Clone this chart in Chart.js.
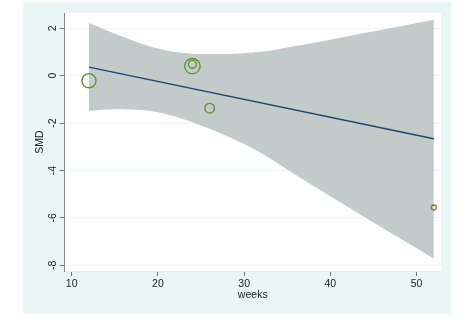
<!DOCTYPE html>
<html>
<head>
<meta charset="utf-8">
<script src="https://cdn.jsdelivr.net/npm/chart.js@4.4.1/dist/chart.umd.min.js"></script>
<style>
  html, body { margin: 0; padding: 0; background: #ffffff; }
  canvas { display: block; }
</style>
</head>
<body>
<canvas id="chart" width="474" height="332"></canvas>
<script>
// Study estimates: duration (weeks), standardized mean difference, relative weight
const weeks = [12, 24, 24, 26, 52];
const smd = [-0.21, 0.40, 0.48, -1.37, -5.56];
const studyWeights = [0.32, 0.38, 0.10, 0.15, 0.04];

// Fitted meta-regression line
const fitWeeks = [12, 52];
const fitSmd = [0.36, -2.66];

// Confidence band around the fit
const bandWeeks = [12, 14, 16, 18, 20, 22, 24, 26, 28, 30, 32, 34, 36, 40, 44, 48, 52];
const bandUpper = [2.22, 1.92, 1.63, 1.36, 1.15, 1.00, 0.93, 0.91, 0.91, 0.95, 1.01, 1.12, 1.25, 1.52, 1.80, 2.08, 2.36];
const bandLower = [-1.49, -1.43, -1.42, -1.45, -1.54, -1.72, -1.96, -2.24, -2.54, -2.88, -3.27, -3.73, -4.19, -5.09, -5.97, -6.85, -7.72];

// Axis ticks
const xTicks = [10, 20, 30, 40, 50];
const yTicks = [-8, -6, -4, -2, 0, 2];

const toXY = (xs, ys) => xs.map((x, i) => ({ x: x, y: ys[i] }));

const FONT = "'Liberation Sans', Arial, sans-serif";
const PANEL = '#eaf5f6';

// Graph region (tinted panel) behind a white plot region
const backdrop = {
  id: 'backdrop',
  beforeDraw(chart) {
    const { ctx, chartArea: a } = chart;
    ctx.save();
    ctx.fillStyle = '#ffffff';
    ctx.fillRect(0, 0, chart.width, chart.height);
    ctx.fillStyle = PANEL;
    ctx.fillRect(23, 2, 428, 312);
    ctx.fillStyle = '#ffffff';
    ctx.fillRect(a.left, a.top, a.right - a.left, a.bottom - a.top);
    ctx.restore();
  }
};

new Chart(document.getElementById('chart'), {
  type: 'scatter',
  data: {
    datasets: [
      {
        label: 'studies',
        data: toXY(weeks, smd),
        showLine: false,
        pointStyle: 'circle',
        pointRadius: studyWeights.map(w => Math.sqrt(w) * 12.5),
        pointHoverRadius: studyWeights.map(w => Math.sqrt(w) * 12.5),
        pointBackgroundColor: 'rgba(0,0,0,0)',
        pointBorderColor: '#5b8f2c',
        pointBorderWidth: 1.3,
        order: 0
      },
      {
        label: 'fit',
        data: toXY(fitWeeks, fitSmd),
        showLine: true,
        borderColor: '#1a476f',
        borderWidth: 1.4,
        pointRadius: 0,
        fill: false,
        order: 1
      },
      {
        label: 'upper',
        data: toXY(bandWeeks, bandUpper),
        showLine: true,
        borderWidth: 0,
        borderColor: 'rgba(0,0,0,0)',
        backgroundColor: '#c3cbca',
        pointRadius: 0,
        cubicInterpolationMode: 'monotone',
        fill: '+1',
        order: 2
      },
      {
        label: 'lower',
        data: toXY(bandWeeks, bandLower),
        showLine: true,
        borderWidth: 0,
        borderColor: 'rgba(0,0,0,0)',
        backgroundColor: '#c3cbca',
        pointRadius: 0,
        cubicInterpolationMode: 'monotone',
        fill: false,
        order: 3
      }
    ]
  },
  options: {
    responsive: false,
    animation: false,
    events: [],
    layout: { padding: { left: 23, right: 33, top: 13, bottom: 21 } },
    plugins: {
      legend: { display: false },
      tooltip: { enabled: false }
    },
    scales: {
      x: {
        type: 'linear',
        min: 9.165,
        max: 52.83,
        afterBuildTicks: s => { s.ticks = xTicks.map(v => ({ value: v })); },
        afterFit: s => { s.height = 40; },
        grid: {
          drawOnChartArea: false,
          tickLength: 5,
          tickColor: '#777777',
          tickWidth: 1
        },
        border: { color: '#e6eeee', width: 1 },
        ticks: {
          padding: 2,
          maxRotation: 0,
          color: '#222222',
          font: { family: FONT, size: 10.5 }
        },
        title: {
          display: true,
          text: 'weeks',
          color: '#222222',
          font: { family: FONT, size: 10.5 },
          padding: { top: 0, bottom: 9.5 }
        }
      },
      y: {
        type: 'linear',
        min: -8.24,
        max: 2.645,
        afterBuildTicks: s => { s.ticks = yTicks.map(v => ({ value: v })); },
        afterFit: s => { s.width = 41.5; },
        grid: {
          drawOnChartArea: true,
          color: '#eef3f3',
          tickLength: 5,
          tickColor: '#777777',
          tickWidth: 1
        },
        border: { color: '#8a8a8a', width: 1 },
        ticks: {
          minRotation: 90,
          maxRotation: 90,
          crossAlign: 'center',
          padding: 2,
          color: '#222222',
          font: { family: FONT, size: 10.5 }
        },
        title: {
          display: true,
          text: 'SMD',
          color: '#222222',
          font: { family: FONT, size: 10.5 },
          padding: { top: 10.5, bottom: 0 }
        }
      }
    }
  },
  plugins: [backdrop]
});
</script>
</body>
</html>
